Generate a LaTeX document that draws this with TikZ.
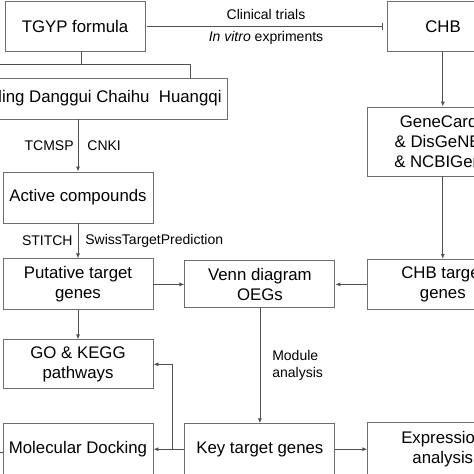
\documentclass[tikz,border=0pt]{standalone}
\usepackage{fontspec}
\setmainfont{Liberation Sans}
\usepackage{xcolor}
\usepackage{tikz}
\usetikzlibrary{arrows.meta,positioning,calc}

\definecolor{edgegray}{RGB}{110,110,110}
\definecolor{linegray}{RGB}{80,80,80}

\begin{document}
\begin{tikzpicture}[
    x=1pt, y=-1pt,
    node distance=32pt and 32pt,
    component/.style={rectangle, draw=edgegray, line width=0.9pt, align=center,
                      minimum width=150pt, minimum height=51pt, inner sep=3pt,
                      fill=white, font=\fontsize{16.8}{20}\selectfont},
    arrow/.style={-{Latex[length=5pt,width=4pt]}, line width=0.8pt, linegray},
    blocked/.style={-{Bar[width=7pt]}, line width=0.8pt, linegray},
    link/.style={line width=0.8pt, linegray},
    lbl/.style={font=\fontsize{14}{17}\selectfont, inner sep=1pt, text=black}
]
\useasboundingbox (0,0) rectangle (474,474);
\clip (0,0) rectangle (474,474);

\node[component, minimum width=140pt, minimum height=50pt] (tgyp) at (75,26.5) {TGYP formula};
\node[component, minimum width=112pt, minimum height=50pt] (chb) at (443,26.5) {CHB};
\node[component, anchor=east, minimum width=0pt, minimum height=41pt, inner xsep=6pt] (herb) at (228,98.5) {ding Danggui Chaihu\ \ Huangqi};

\node[component] (act) at (78,197.5) {Active compounds};
\node[component, below=35pt of act] (put) {Putative target\\genes};
\node[component, below=29pt of put, minimum height=49pt] (go) {GO \& KEGG\\pathways};
\node[component, below=34pt of go] (dock) {Molecular Docking};

\node[component, right=31pt of put, minimum height=47pt] (venn) {Venn diagram\\OEGs};
\node[component, right=32pt of venn, minimum height=50pt] (chbt) {CHB target\\genes};
\node[component, right=31pt of dock] (key) {Key target genes};
\node[component, right=32pt of key, minimum height=54pt] (expr) {Expression\\analysis};
\node[component, minimum height=69pt] (gene) at (chbt |- 0,141.5) {GeneCards\\\& DisGeNET\\\& NCBIGene};

% formula split into herbs
\coordinate (br) at (81,64);
\coordinate (brL) at (-10,64);
\coordinate (brR) at (190,64);
\coordinate (dockL) at (-5,452);

\draw[blocked, shorten <=2pt, shorten >=4pt] (tgyp) -- node[lbl, above=5pt]{Clinical trials}
    node[lbl, below=3pt]{\textit{In vitro} expriments} (chb);
\draw[link] (tgyp.south -| br) -- (br);
\draw[link] (brL) -- (brR) -- (brR |- herb.north);

\draw[arrow] (act.north |- herb.south) -- node[lbl, left=3pt]{TCMSP} node[lbl, right=8pt]{CNKI} (act.north);
\draw[arrow] (act) -- node[lbl, left=4pt]{STITCH} node[lbl, right=6pt]{SwissTargetPrediction} (put);
\draw[arrow] (put) -- (go);
\draw[arrow] (put) -- (venn);
\draw[arrow] (gene.north |- chb.south) -- (gene.north);
\draw[arrow] (gene) -- (chbt);
\draw[arrow] (chbt) -- (venn);
\draw[arrow] (venn) -- node[lbl, right=11pt, align=left]{Module\\analysis} (key);
\draw[arrow] (key) -- (dock);
\draw[arrow] (key) -- (expr);
\draw[arrow] ($(key.west)+(-12,0)$) |- (go.east);
\draw[link] (dockL) -- (dock.west |- dockL);

\end{tikzpicture}
\end{document}
